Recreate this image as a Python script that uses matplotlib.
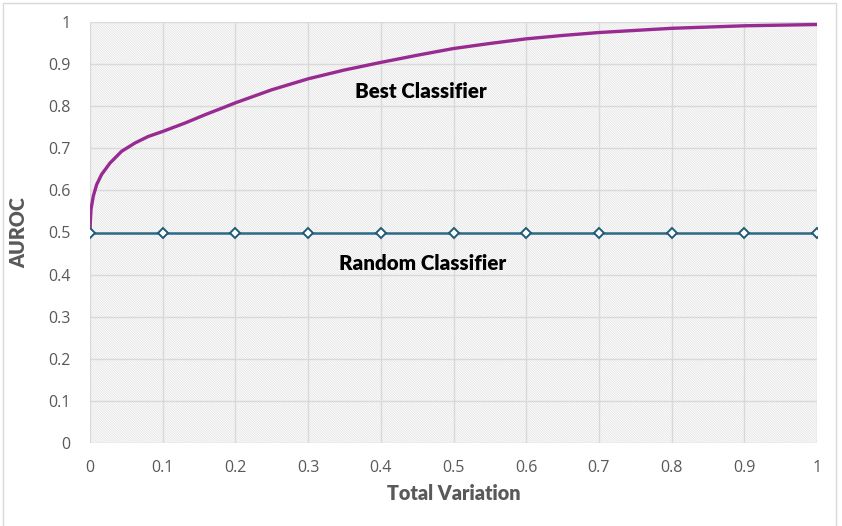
import numpy as np
import matplotlib.pyplot as plt
from matplotlib.patches import Rectangle

# valores
tv_best = [0, 0.0004, 0.0014, 0.0046, 0.0092, 0.016, 0.0275, 0.0436, 0.0619, 0.08, 0.1,
           0.1307, 0.16, 0.181, 0.2, 0.25, 0.3, 0.35, 0.4, 0.45, 0.5, 0.55, 0.6, 0.65,
           0.7, 0.8, 0.9, 1.0]
auroc_best = [0.5, 0.525, 0.555, 0.587, 0.614, 0.638, 0.665, 0.693, 0.7126, 0.728, 0.740,
              0.760, 0.781, 0.795, 0.808, 0.839, 0.865, 0.886, 0.904, 0.921, 0.937, 0.949,
              0.960, 0.968, 0.975, 0.985, 0.991, 0.994]

tv_random = [0, 0.1, 0.2, 0.3, 0.4, 0.5, 0.6, 0.7, 0.8, 0.9, 1.0]
auroc_random = [0.5, 0.5, 0.5, 0.5, 0.5, 0.5, 0.5, 0.5, 0.5, 0.5, 0.5]

ticks = [0, 0.1, 0.2, 0.3, 0.4, 0.5, 0.6, 0.7, 0.8, 0.9, 1]
tick_labels = ["0", "0.1", "0.2", "0.3", "0.4", "0.5", "0.6", "0.7", "0.8", "0.9", "1"]

plt.rcParams['font.family'] = ['Open Sans', 'DejaVu Sans']
plt.rcParams['hatch.linewidth'] = 0.6

gris = "#595959"
negrita = ["Lato", "DejaVu Sans"]

fig = plt.figure(figsize=(8.42, 5.26), dpi=100)
ax = fig.add_axes([90 / 842, 1 - 443 / 526, 727 / 842, 421 / 526])

# fondo rayado
ax.add_patch(Rectangle((0, 0), 1, 1, transform=ax.transAxes, facecolor="white",
                       edgecolor="#e4e4e4", hatch="\\" * 14, linewidth=0, zorder=0))

ax.plot(tv_best, auroc_best, color="#992a91", linewidth=2.4, zorder=3,
        solid_capstyle="butt", solid_joinstyle="round")
ax.plot(tv_random, auroc_random, color="#2c6a86", linewidth=1.8, marker="D",
        markersize=5, markerfacecolor="white", markeredgecolor="#1f5a78",
        markeredgewidth=1.4, zorder=4)

ax.set_xlim(0, 1)
ax.set_ylim(0, 1)
ax.set_xticks(ticks)
ax.set_xticklabels(tick_labels)
ax.set_yticks(ticks)
ax.set_yticklabels(tick_labels)
ax.grid(True, color="#d9d9d9", linewidth=1.0, zorder=1)
ax.set_axisbelow(True)
ax.tick_params(length=0, labelsize=11.5, labelcolor=gris, pad=12)
ax.tick_params(axis="y", pad=14)
for s in ax.spines.values():
    s.set_visible(False)

ax.set_xlabel("Total Variation", fontsize=14.2, fontweight="heavy", color=gris,
              family=negrita, labelpad=6)
ax.set_ylabel("AUROC", fontsize=14.2, fontweight="heavy", color=gris,
              family=negrita, labelpad=14)

ax.text(0.455, 0.835, "Best Classifier", fontsize=14.8, fontweight="heavy", color="black",
        ha="center", va="center", family=negrita)
ax.text(0.458, 0.427, "Random Classifier", fontsize=14.8, fontweight="heavy", color="black",
        ha="center", va="center", family=negrita)

# borde de la figura
fig.add_artist(Rectangle((3 / 842, -0.01), 833 / 842, 1 - 3 / 526 + 0.01,
                         transform=fig.transFigure, fill=False,
                         edgecolor="#d9d9d9", linewidth=1.0))

fig.savefig("out.png", dpi=100)
